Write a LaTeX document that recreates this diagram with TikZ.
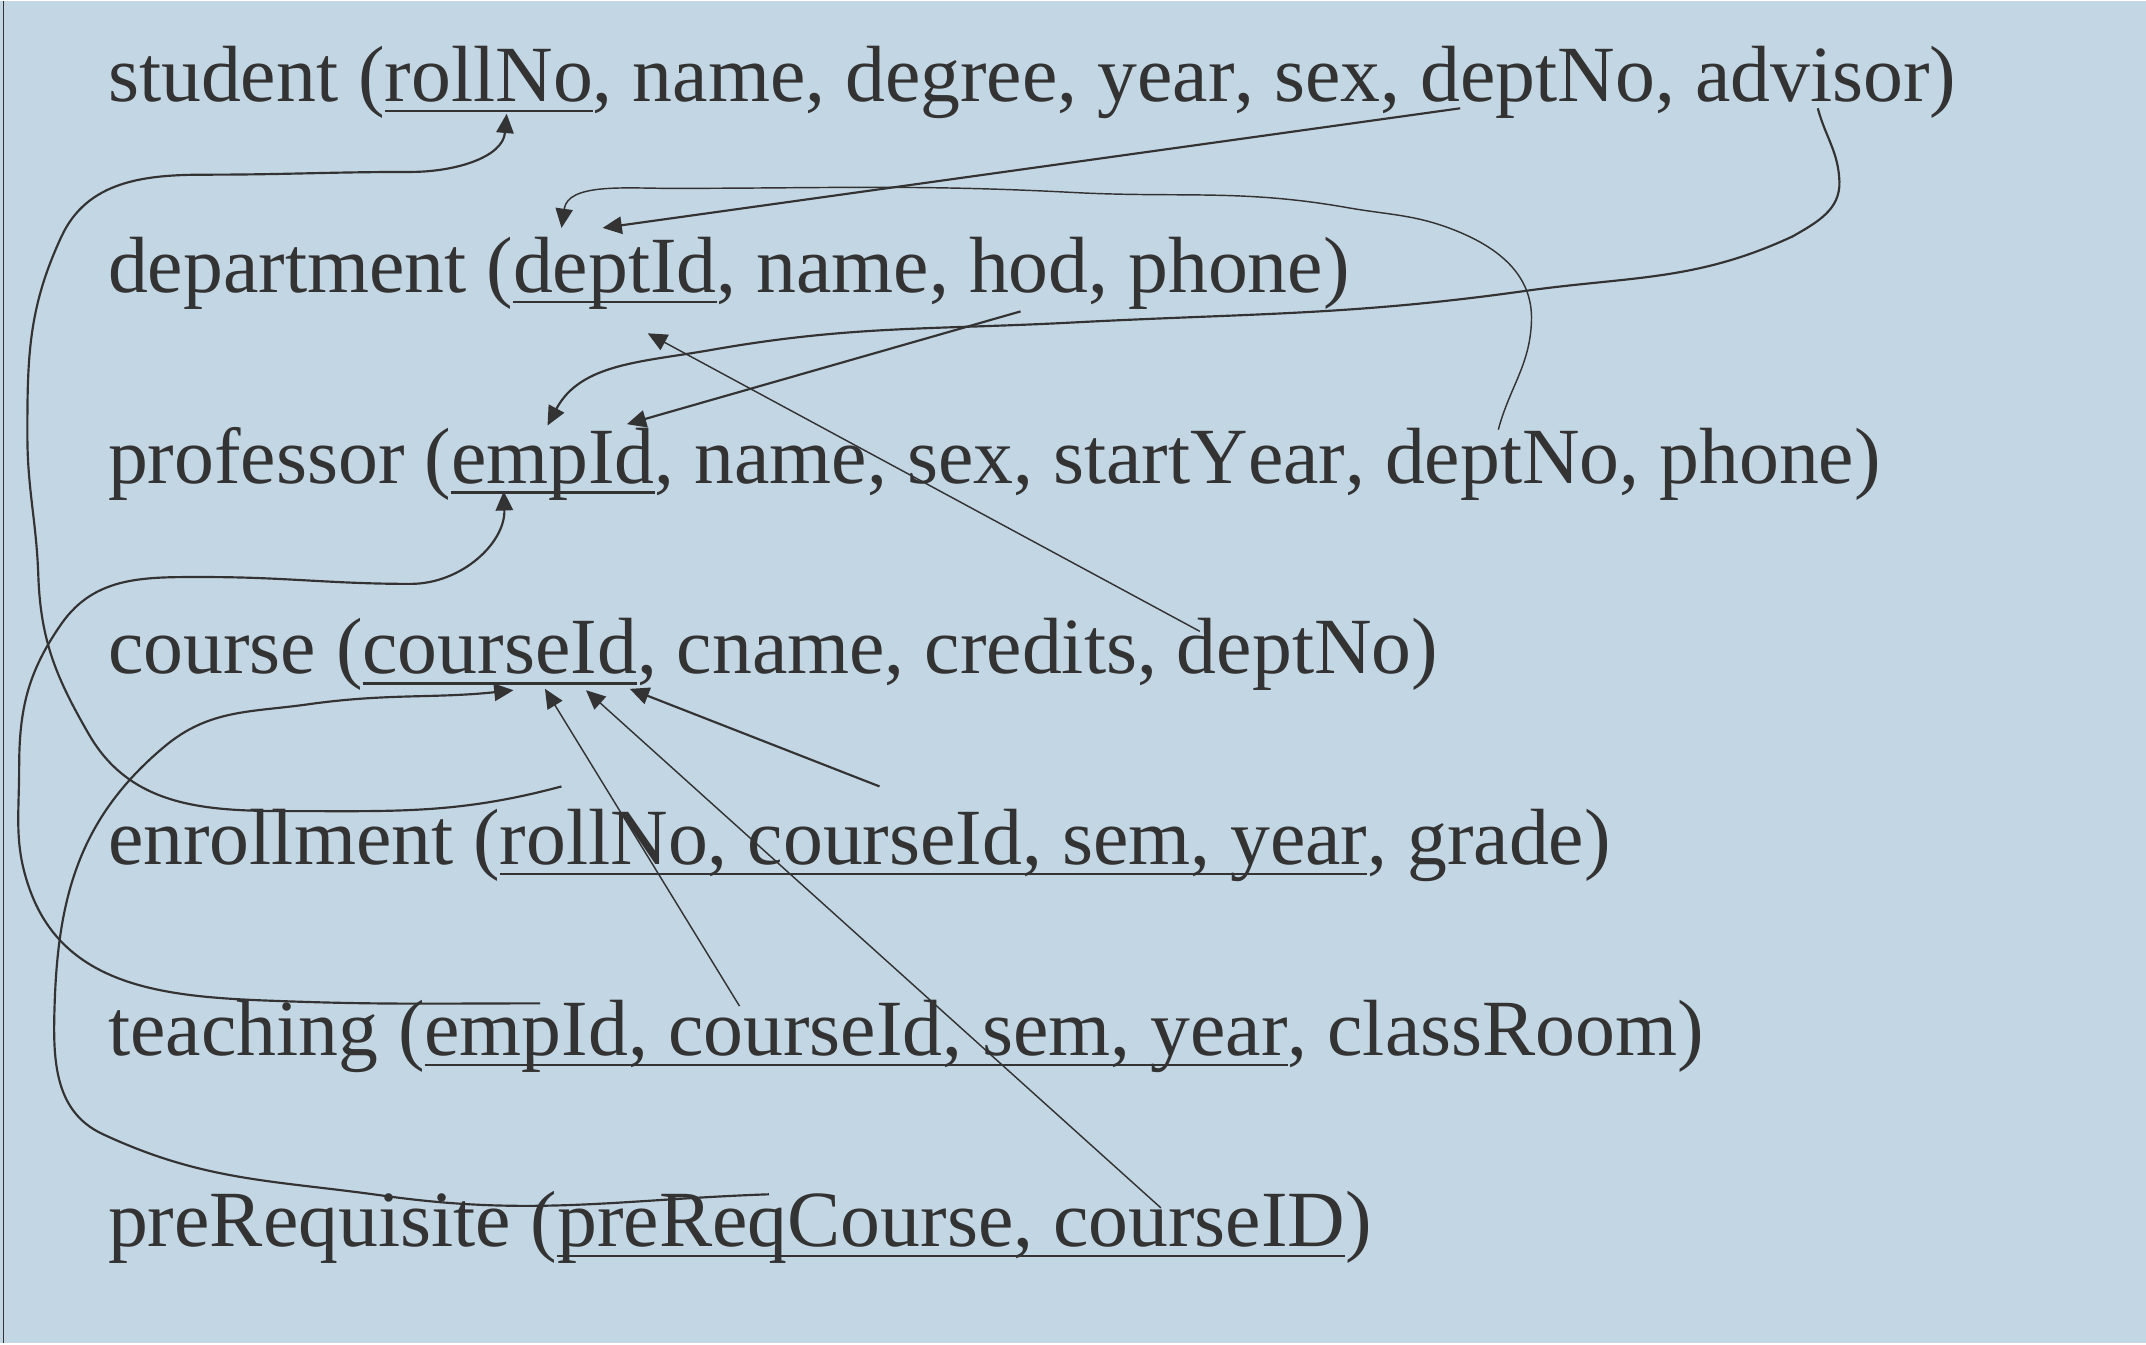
\documentclass[tikz,border=0pt]{standalone}
\usepackage{fontspec}
\setmainfont{Liberation Serif}[Kerning=Off]
\usepackage{tikz}
\usetikzlibrary{arrows.meta,positioning,calc}

\definecolor{bgblue}{RGB}{195,214,227}
\definecolor{ink}{RGB}{51,51,51}

\begin{document}
\begin{tikzpicture}[
    x=0.01cm, y=0.01cm,
    rel/.style={inner sep=0pt, outer sep=0pt, anchor=base west, text=ink, font=\fontsize{16.56pt}{20pt}\selectfont},
    pk/.style={ink, line width=0.55pt},
    fk/.style={-{Triangle[length=4pt,width=3.6pt]}, ink, line width=0.45pt},
    fkthin/.style={fk, line width=0.3pt}
]
    % Background
    \fill[bgblue] (0,0) rectangle (1568,-981);
    \draw[ink, line width=0.35pt] (2.5,0) -- (2.5,-981);

    % student
    \node[rel] (stu) at (79,-73.5) {student (};
    \node[rel, base right=0pt of stu] (stu-roll) {rollNo};
    \node[rel, base right=0pt of stu-roll] (stu-a) {, name, degree, year, sex,};
    \node[rel, base right=4.14pt of stu-a] (stu-dept) {deptNo};
    \node[rel, base right=0pt of stu-dept] (stu-b) {,};
    \node[rel, base right=4.14pt of stu-b] (stu-adv) {advisor};
    \node[rel, base right=0pt of stu-adv] (stu-c) {)};

    % department
    \node[rel] (dep) at (79,-212.9) {department (};
    \node[rel, base right=0pt of dep] (dep-id) {deptId};
    \node[rel, base right=0pt of dep-id] (dep-a) {, name,};
    \node[rel, base right=4.14pt of dep-a] (dep-hod) {hod};
    \node[rel, base right=0pt of dep-hod] (dep-b) {, phone)};

    % professor
    \node[rel] (pro) at (79,-352.3) {professor (};
    \node[rel, base right=0pt of pro] (pro-emp) {empId};
    \node[rel, base right=0pt of pro-emp] (pro-a) {, name, sex, startYear,};
    \node[rel, base right=4.14pt of pro-a] (pro-dept) {deptNo};
    \node[rel, base right=0pt of pro-dept] (pro-b) {, phone)};

    % course
    \node[rel] (cou) at (79,-491.7) {course (};
    \node[rel, base right=0pt of cou] (cou-id) {courseId};
    \node[rel, base right=0pt of cou-id] (cou-a) {, cname, credits,};
    \node[rel, base right=4.14pt of cou-a] (cou-dept) {deptNo};
    \node[rel, base right=0pt of cou-dept] (cou-b) {)};

    % enrollment
    \node[rel] (enr) at (79,-631) {enrollment (};
    \node[rel, base right=0pt of enr] (enr-roll) {rollNo};
    \node[rel, base right=0pt of enr-roll] (enr-a) {,};
    \node[rel, base right=4.14pt of enr-a] (enr-course) {courseId};
    \node[rel, base right=0pt of enr-course] (enr-b) {, sem, year};
    \node[rel, base right=0pt of enr-b] (enr-c) {, grade)};

    % teaching
    \node[rel] (tea) at (79,-770.5) {teaching (};
    \node[rel, base right=0pt of tea] (tea-emp) {empId};
    \node[rel, base right=0pt of tea-emp] (tea-a) {,};
    \node[rel, base right=4.14pt of tea-a] (tea-course) {courseId};
    \node[rel, base right=0pt of tea-course] (tea-b) {, sem, year};
    \node[rel, base right=0pt of tea-b] (tea-c) {, classRoom)};

    % preRequisite
    \node[rel] (pre) at (79,-910) {preRequisite (};
    \node[rel, base right=0pt of pre] (pre-prc) {preReqCourse};
    \node[rel, base right=0pt of pre-prc] (pre-a) {,};
    \node[rel, base right=4.14pt of pre-a] (pre-cid) {courseID};
    \node[rel, base right=0pt of pre-cid] (pre-b) {)};

    % Primary keys
    \draw[pk] ([yshift=-0.07cm]stu-roll.base west) -- ([yshift=-0.07cm]stu-roll.base east);
    \draw[pk] ([yshift=-0.07cm]dep-id.base west) -- ([yshift=-0.07cm]dep-id.base east);
    \draw[pk] ([yshift=-0.07cm]pro-emp.base west) -- ([yshift=-0.07cm]pro-emp.base east);
    \draw[pk] ([yshift=-0.07cm]cou-id.base west) -- ([yshift=-0.07cm]cou-id.base east);
    \draw[pk] ([yshift=-0.07cm]enr-roll.base west) -- ([yshift=-0.07cm]enr-b.base east);
    \draw[pk] ([yshift=-0.07cm]tea-emp.base west) -- ([yshift=-0.07cm]tea-b.base east);
    \draw[pk] ([yshift=-0.07cm]pre-prc.base west) -- ([yshift=-0.07cm]pre-cid.base east);

    % Foreign keys
    \draw[fk] ($(stu-dept.base west)+(29,-5)$) -- ($(dep-id.base)+(-9,47)$);
    \draw[fkthin] ($(pro-dept.base)+(-3,39)$) to[out=75,in=-92] (1119,-234)
        to[out=88,in=-22] (1064,-168) to[out=158,in=-10] (984,-151)
        to[out=170,in=-3] (784,-140) to[out=177,in=0] (490,-137)
        to[out=180,in=82] ($(dep-id.base)+(-39,47)$);
    \draw[fk] ($(stu-adv.base)+(4,-5)$) to[out=-75,in=92] (1344,-132)
        to[out=-88,in=30] (1310,-172) to[out=205,in=8] (1114,-212)
        to[out=188,in=3] (784,-235) to[out=183,in=10] (520,-255)
        to[out=190,in=62] ($(pro-emp.base)+(-4,42)$);
    \draw[fk] ($(dep-hod.base)+(-6,-14)$) -- ($(pro-emp.base)+(54,43)$);
    \draw[fkthin] ($(cou-dept.base)+(-69,31)$) -- ($(dep-id.base)+(24,-30)$);
    \draw[fk] ($(enr-roll.base)+(-31,57)$) to[out=195,in=0] (210,-592)
        to[out=180,in=-60] (65,-536) to[out=120,in=-88] (28,-420)
        to[out=92,in=-90] (20,-317) to[out=90,in=-115] (45,-172)
        to[out=65,in=180] (150,-127) to[out=0,in=180] (300,-125)
        to[out=0,in=-95] ($(stu-roll.base)+(13,-9)$);
    \draw[fk] ($(tea-emp.base)+(10,38)$) to[out=180,in=-2] (210,-731)
        to[out=178,in=-70] (22,-650) to[out=110,in=-90] (14,-560)
        to[out=90,in=-125] (45,-455) to[out=55,in=180] (150,-421)
        to[out=0,in=180] (300,-426) to[out=0,in=-88] ($(pro-emp.base)+(-36,-6)$);
    \draw[fk] ($(pre-prc.base)+(-12,38)$) to[out=182,in=-8] (280,-873)
        to[out=172,in=-25] (75,-828) to[out=155,in=-92] (40,-731)
        to[out=88,in=-140] (120,-545) to[out=40,in=188] (225,-514)
        to[out=8,in=186] ($(cou-id.base)+(10,-12)$);
    \draw[fkthin] ($(tea-course.base)+(-48,36)$) -- ($(cou-id.base)+(33,-11)$);
    \draw[fkthin] ($(pre-cid.base)+(-28,28)$) -- ($(cou-id.base)+(63,-12)$);
    \draw[fk] ($(enr-course.base)+(-4,57)$) -- ($(cou-id.base)+(95,-11)$);
\end{tikzpicture}
\end{document}
